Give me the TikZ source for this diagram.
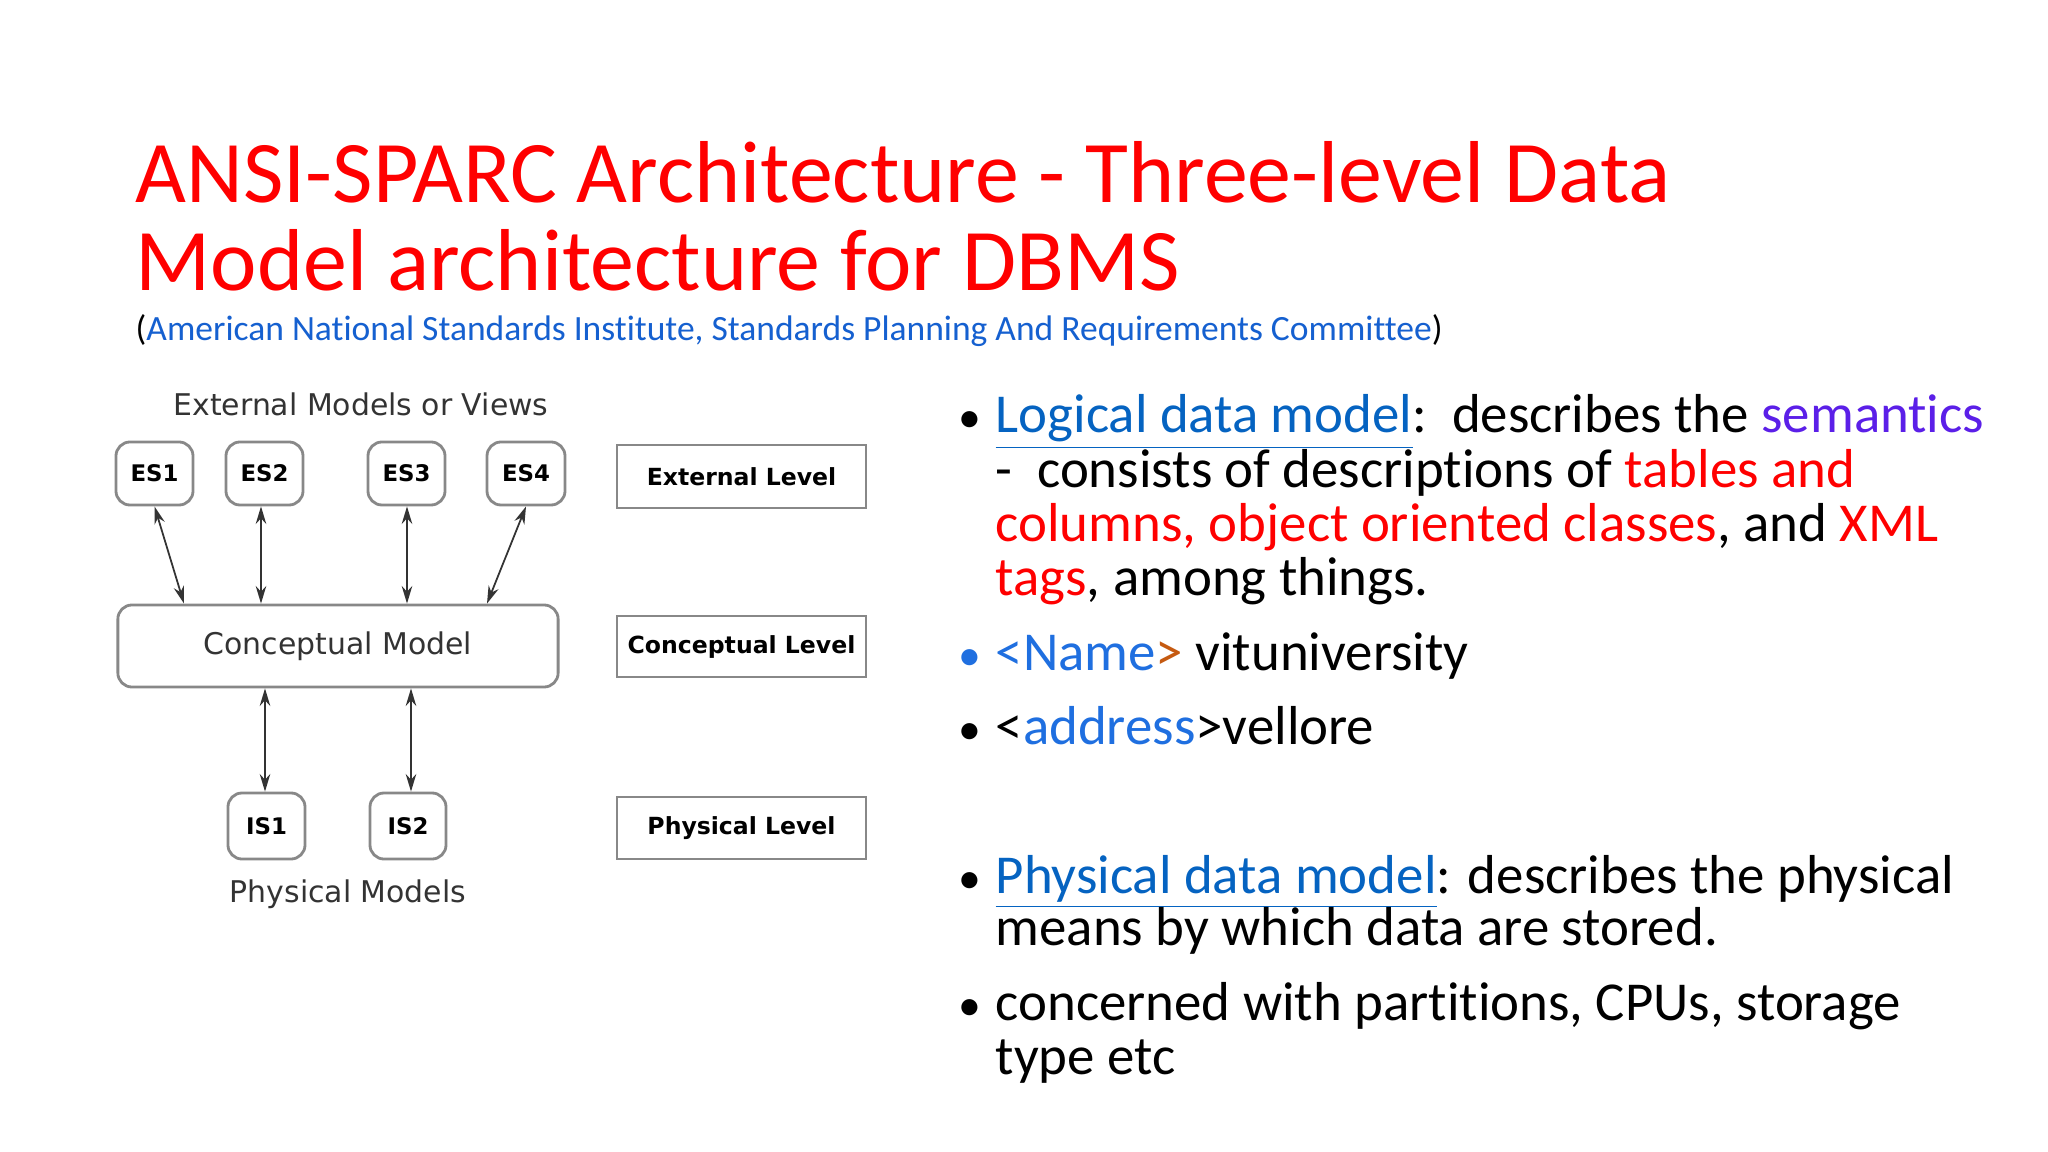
\documentclass[tikz,border=0pt]{standalone}
\usepackage{fontspec}
\setmainfont[Ligatures={NoCommon}]{Carlito}
\newfontfamily\djsans{DejaVu Sans}
\usetikzlibrary{arrows.meta}
\definecolor{tred}{HTML}{FF0000}
\definecolor{lnk}{HTML}{0563C1}
\definecolor{sub}{HTML}{1560D0}
\definecolor{purp}{HTML}{5B1FE8}
\definecolor{brn}{HTML}{C55A11}
\definecolor{nb}{HTML}{1F6FE0}
\definecolor{bord}{HTML}{888888}
\begin{document}
\begin{tikzpicture}[x=0.01cm,y=-0.01cm,
  es/.style={draw=bord,line width=0.8pt,rounded corners=4pt,inner sep=0pt,font=\djsans\bfseries\fontsize{6.5}{8}\selectfont},
  lvl/.style={draw=bord,line width=0.8pt,inner sep=0pt,minimum width=2.49cm,font=\djsans\bfseries\fontsize{6.7}{8}\selectfont},
  bt/.style={anchor=base west,inner sep=0pt,font=\fontsize{15.6}{18}\selectfont},
  bul/.style={anchor=base west,inner sep=0pt,font=\fontsize{13}{18}\selectfont},
  arr/.style={{Stealth[length=5pt,width=3pt]}-{Stealth[length=5pt,width=3pt]},line width=0.5pt,draw=black!80}]
\useasboundingbox (0,0) rectangle (2048,1152);
\fill[white] (0,0) rectangle (2048,1152);
\node[anchor=base west,inner sep=0pt,text=tred,font=\fontsize{25}{30}\selectfont] (t1) at (135,203) {ANSI-SPARC Architecture - Three-level Data};
\node[anchor=base west,inner sep=0pt,text=tred,font=\fontsize{25}{30}\selectfont] (t2) at (135,291) {Model architecture for DBMS};
\node[anchor=base west,inner sep=0pt,font=\fontsize{10.1}{12}\selectfont] (st) at (135,341) {(\textcolor{sub}{American National Standards Institute, Standards Planning And Requirements Committee})};
% diagram
\node[font=\djsans\fontsize{8.5}{11}\selectfont,text=black!80,anchor=base] (emv) at (361,416) {External Models or Views};
\node[es,minimum width=0.77cm,minimum height=0.63cm] (es1) at (154.5,473.5) {ES1};
\node[es,minimum width=0.77cm,minimum height=0.63cm] (es2) at (264.5,473.5) {ES2};
\node[es,minimum width=0.77cm,minimum height=0.63cm] (es3) at (406.5,473.5) {ES3};
\node[es,minimum width=0.78cm,minimum height=0.63cm] (es4) at (526,473.5) {ES4};
\node[es,font=\djsans\fontsize{8.5}{11}\selectfont,text=black!80,minimum width=4.4cm,minimum height=0.82cm] (cm) at (338,646) {Conceptual Model};
\node[es,minimum width=0.77cm,minimum height=0.66cm] (is1) at (266.5,826) {IS1};
\node[es,minimum width=0.76cm,minimum height=0.66cm] (is2) at (408,826) {IS2};
\node[font=\djsans\fontsize{8.5}{11}\selectfont,text=black!80,anchor=base] (pm) at (348,902) {Physical Models};
\node[lvl,minimum height=0.63cm] (el) at (741.5,476.5) {External Level};
\node[lvl,minimum height=0.61cm] (cl) at (741.5,646.5) {Conceptual Level};
\node[lvl,minimum height=0.62cm] (pl) at (741.5,828) {Physical Level};
\draw[arr] (es1.south) -- (cm.north -| 184,0);
\draw[arr] (es2.south -| 261,0) -- (cm.north -| 261,0);
\draw[arr] (es3.south -| 407,0) -- (cm.north -| 407,0);
\draw[arr] (es4.south) -- (cm.north -| 487,0);
\draw[arr] (cm.south -| 265,0) -- (is1.north -| 265,0);
\draw[arr] (cm.south -| 411,0) -- (is2.north -| 411,0);
% bullets
\node[bul] (b1) at (958,433) {•};
\node[bt] (l1) at (995,433) {\textcolor{lnk}{\underline{Logical data model}}:\ \ describes the \textcolor{purp}{semantics}};
\node[bt] (l2) at (995,488) {-\ \ consists of descriptions of \textcolor{tred}{tables and}};
\node[bt] (l3) at (995,542) {\textcolor{tred}{columns, object oriented classes}, and \textcolor{tred}{XML}};
\node[bt] (l4) at (995,595) {\textcolor{tred}{tags}, among things.};
\node[bul,text=nb] (b2) at (958,670) {•};
\node[bt] (l5) at (995,670) {\textcolor{nb}{<Name}\textcolor{brn}{>} vituniversity};
\node[bul] (b3) at (958,744) {•};
\node[bt] (l6) at (995,744) {<\textcolor{nb}{address}>vellore};
\node[bul] (b4) at (958,893) {•};
\node[bt] (l7) at (995,893) {\textcolor{lnk}{\underline{Physical data model}}: describes the physical};
\node[bt] (l8) at (995,945) {means by which data are stored.};
\node[bul] (b5) at (958,1020) {•};
\node[bt] (l9) at (995,1020) {concerned with partitions, CPUs, storage};
\node[bt] (l10) at (995,1074) {type etc};
\end{tikzpicture}
\end{document}
